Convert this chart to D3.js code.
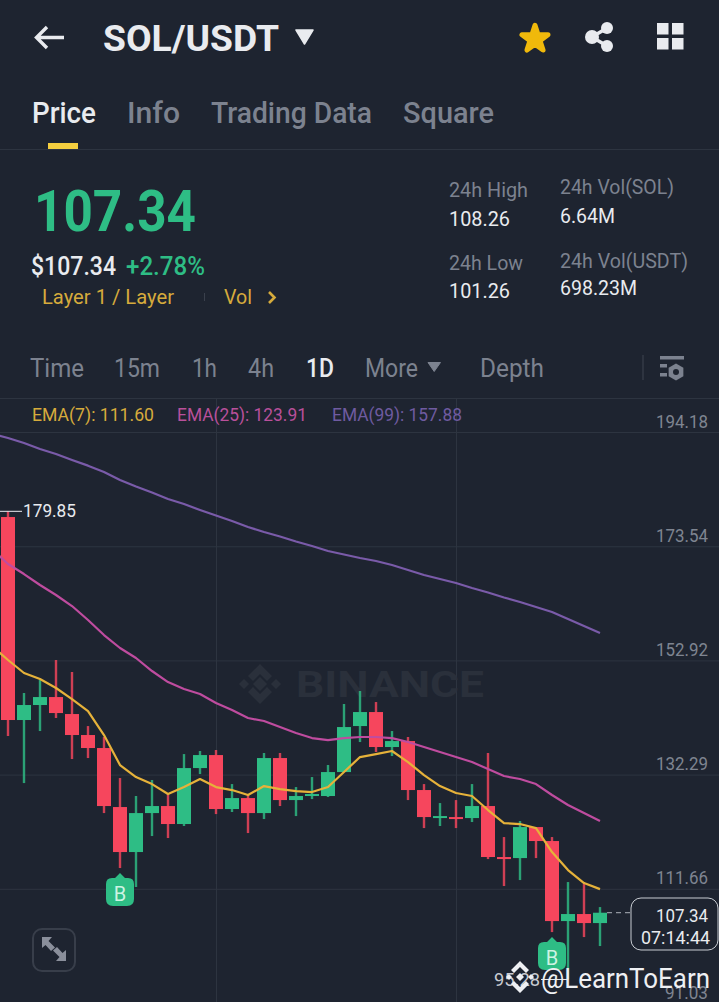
<!DOCTYPE html>
<html>
<head>
<meta charset="utf-8">
<title>SOL/USDT</title>
<script src="https://cdn.jsdelivr.net/npm/d3@7/dist/d3.min.js"></script>
<style>
  html, body { margin: 0; padding: 0; background: #1e2430; }
  svg { display: block; }
  text { font-family: Roboto, "Noto Sans", sans-serif; }
</style>
</head>
<body>
<svg id="chart" width="719" height="1002"></svg>
<script>
// Daily candles, oldest first
const opens = [178.82,142.15,144.86,146.30,143.23,139.44,137.09,126.43,118.30,125.34,126.61,123.36,133.47,135.82,126.07,128.05,125.34,135.28,127.69,128.60,128.42,132.75,141.06,143.59,137.27,138.35,129.50,124.44,124.62,124.44,126.61,117.40,117.21,122.81,120.29,105.83,107.10,105.47];
const highs = [179.85,147.03,149.37,152.99,150.82,141.06,139.08,131.67,128.42,131.31,128.78,136.00,136.55,136.73,130.58,128.60,136.19,136.19,130.04,131.85,134.02,145.04,147.39,145.40,140.16,139.08,130.58,127.15,127.69,130.58,136.19,121.01,123.90,122.81,121.01,112.88,112.52,108.36];
const lows = [139.26,130.76,140.16,142.51,135.10,135.28,125.34,115.41,111.98,121.19,120.83,123.00,132.39,125.16,125.53,121.73,124.26,126.61,124.80,127.87,128.24,132.75,138.17,136.37,135.64,127.69,122.63,123.00,122.63,123.72,117.03,112.16,113.24,117.21,103.84,95.28,102.94,101.32];
const closes = [142.15,144.86,146.30,143.41,139.44,137.09,126.61,118.30,125.34,126.61,123.36,133.47,135.82,126.07,128.05,125.34,135.28,127.69,128.42,128.78,132.75,140.88,143.59,137.27,138.35,129.50,124.62,124.80,124.44,126.61,117.40,117.03,122.81,120.29,105.83,107.10,105.47,107.34];

// Moving averages; each starts one session before the first visible candle
const ema7 = [155.52,152.99,150.64,149.55,147.93,145.94,143.77,139.44,134.02,131.85,130.58,128.78,130.04,131.49,130.04,129.50,128.60,130.22,129.68,129.32,129.14,130.04,132.75,135.46,136.00,136.55,134.56,132.21,130.22,128.96,128.42,125.89,123.54,123.36,122.63,118.30,115.05,112.70,111.60];
const ema25 = [173.04,170.33,168.52,166.54,164.73,162.74,160.21,157.50,155.16,153.35,151.00,149.01,147.75,146.84,145.22,143.95,142.51,141.97,140.88,139.80,138.89,138.53,138.89,139.08,139.08,138.89,138.17,137.27,136.37,135.46,134.56,133.29,132.03,131.49,130.58,128.60,126.79,125.34,123.91];
const ema99 = [193.82,193.10,192.19,191.11,190.21,189.12,188.10,186.95,185.51,184.33,183.25,182.07,181.16,180.09,179.09,178.10,177.02,176.11,175.30,174.40,173.58,172.68,172.05,171.42,170.87,170.15,169.25,168.34,167.62,166.90,165.99,165.18,164.28,163.47,162.56,161.66,160.39,159.13,157.88];

const priceTicks = [194.18,173.54,152.92,132.29,111.66,91.03];
const timeGridCandles = [13,28];
const buyCandles = [7,34];
const lastPrice = 107.34;
const countdown = "07:14:44";

const palette = {
  up: "#2ebd85", down: "#f6465d", grid: "#2d3440", muted: "#7c828f", text: "#e9ebef",
  gold: "#d6ab3c", ema7: "#e6b23a", ema25: "#bf4c9f", ema99: "#7a5ba9"
};

const svg = d3.select("#chart");
const x = d3.scaleLinear().domain([0, 37]).range([8, 600]);
const y = d3.scaleLinear().domain([91.03, 194.18]).range([1003, 432]);

// Text fitted to a fixed width, giving the narrow look of the app's typeface
function label(str, left, baseline, size, color, width, weight = 400, parent = svg) {
  return parent.append("text").attr("x", left).attr("y", baseline)
    .attr("font-size", size).attr("font-weight", weight).attr("fill", color)
    .attr("textLength", width).attr("lengthAdjust", "spacingAndGlyphs").text(str);
}

// ---------- header ----------
svg.append("path").attr("d", "M64 37.5H37M47 27L36.5 37.5L47 48")
  .attr("fill", "none").attr("stroke", palette.text).attr("stroke-width", 3.4);
label("SOL/USDT", 103, 51, 36, palette.text, 176, 700);
svg.append("path").attr("d", "M296 30H313L304.5 44Z").attr("fill", palette.text)
  .attr("stroke", palette.text).attr("stroke-width", 1.5).attr("stroke-linejoin", "round");
svg.append("path").attr("d", d3.symbol(d3.symbolStar, 210)).attr("transform", "translate(535,39)")
  .attr("fill", "#f0b90b").attr("stroke", "#f0b90b").attr("stroke-width", 5).attr("stroke-linejoin", "round");
svg.append("path").attr("d", "M607 28L592 37L607 46").attr("fill", "none").attr("stroke", palette.text).attr("stroke-width", 3.5);
[[592, 37, 7], [607, 28, 6], [607, 46, 6]].forEach(([cx, cy, r]) =>
  svg.append("circle").attr("cx", cx).attr("cy", cy).attr("r", r).attr("fill", palette.text));
[[657, 23], [672, 23], [657, 38], [672, 38]].forEach(([a, b]) =>
  svg.append("rect").attr("x", a).attr("y", b).attr("width", 11.5).attr("height", 11.5).attr("fill", palette.text));

// ---------- tabs ----------
label("Price", 32, 123, 29, palette.text, 64, 500);
label("Info", 127, 123, 29, palette.muted, 53, 500);
label("Trading Data", 211, 123, 29, palette.muted, 161, 500);
label("Square", 403, 123, 29, palette.muted, 91, 500);
svg.append("rect").attr("x", 48).attr("y", 143).attr("width", 30).attr("height", 6).attr("fill", "#f5cf3f");
svg.append("line").attr("x1", 0).attr("x2", 719).attr("y1", 149.5).attr("y2", 149.5).attr("stroke", palette.grid);

// ---------- price summary ----------
label("107.34", 34, 231, 57, palette.up, 162, 700);
label("$107.34", 31, 275, 25, palette.text, 85, 500);
label("+2.78%", 126, 275, 25, palette.up, 79, 500);
label("Layer 1 / Layer", 42, 304, 21, palette.gold, 132);
svg.append("line").attr("x1", 204.5).attr("x2", 204.5).attr("y1", 293).attr("y2", 301).attr("stroke", "#3a404c");
label("Vol", 224, 304, 21, palette.gold, 28);
svg.append("path").attr("d", "M269 292L274.5 297.5L269 303").attr("fill", "none").attr("stroke", palette.gold).attr("stroke-width", 2.6);

label("24h High", 449, 197, 21, palette.muted, 79);
label("108.26", 449, 226, 21, palette.text, 61);
label("24h Vol(SOL)", 560, 194, 21, palette.muted, 114);
label("6.64M", 560, 223, 21, palette.text, 55);
label("24h Low", 449, 270, 21, palette.muted, 74);
label("101.26", 449, 298, 21, palette.text, 61);
label("24h Vol(USDT)", 560, 268, 21, palette.muted, 128);
label("698.23M", 560, 295, 21, palette.text, 77);

// ---------- interval bar ----------
label("Time", 30, 377, 25, palette.muted, 54);
label("15m", 114, 377, 25, palette.muted, 46);
label("1h", 192, 377, 25, palette.muted, 25);
label("4h", 248, 377, 25, palette.muted, 26);
label("1D", 306, 377, 25, palette.text, 28, 500);
label("More", 365, 377, 25, palette.muted, 53);
svg.append("path").attr("d", "M428 362.5H440.5L434.2 371.5Z").attr("fill", palette.muted)
  .attr("stroke", palette.muted).attr("stroke-linejoin", "round");
label("Depth", 480, 377, 25, palette.muted, 64);
svg.append("line").attr("x1", 643).attr("x2", 643).attr("y1", 355).attr("y2", 380).attr("stroke", "#343a46").attr("stroke-width", 1.5);
svg.append("rect").attr("x", 660).attr("y", 356).attr("width", 24).attr("height", 3.5).attr("fill", palette.muted);
[364, 373].forEach(top => svg.append("rect").attr("x", 660).attr("y", top).attr("width", 7).attr("height", 3.5).attr("fill", palette.muted));
svg.append("path").attr("d", d3.line()(d3.range(6).map(k => {
  const a = Math.PI / 3 * k;
  return [676 + 8.5 * Math.sin(a), 372 + 8.5 * Math.cos(a)];
})) + "Z").attr("fill", palette.muted);
svg.append("circle").attr("cx", 676).attr("cy", 372).attr("r", 3).attr("fill", "#1e2430");
svg.append("line").attr("x1", 0).attr("x2", 719).attr("y1", 398.5).attr("y2", 398.5).attr("stroke", palette.grid);

// ---------- grid ----------
const gridY = svg.append("g").call(d3.axisRight(y).tickValues(priceTicks).tickSize(719).tickFormat(""));
gridY.select(".domain").remove();
gridY.selectAll("line").attr("stroke", palette.grid);
const gridX = svg.append("g").attr("transform", "translate(0,1002)")
  .call(d3.axisTop(x).tickValues(timeGridCandles).tickSize(603).tickFormat(""));
gridX.select(".domain").remove();
gridX.selectAll("line").attr("stroke", palette.grid);

// ---------- exchange watermark ----------
const diamond = (cx, cy, r) => `M${cx} ${cy - r}L${cx + r} ${cy}L${cx} ${cy + r}L${cx - r} ${cy}Z`;
const markColor = "#2a303b";
const bigMark = svg.append("g");
bigMark.append("path").attr("d", diamond(260, 684, 7)).attr("fill", markColor);
bigMark.append("path").attr("d", diamond(244, 684, 5)).attr("fill", markColor);
bigMark.append("path").attr("d", diamond(276, 684, 5)).attr("fill", markColor);
bigMark.append("path").attr("d", "M248 676L260 664L272 676L267 681L260 674L253 681ZM248 692L260 704L272 692L267 687L260 694L253 687Z").attr("fill", markColor);
label("BINANCE", 296, 697, 37, markColor, 188, 700);

// ---------- candles ----------
const candles = d3.range(closes.length).map(i => ({ i, o: opens[i], h: highs[i], l: lows[i], c: closes[i] }));
const tone = d => d.c >= d.o ? palette.up : palette.down;
const candle = svg.append("g").selectAll("g").data(candles).join("g");
candle.append("line")
  .attr("x1", d => x(d.i)).attr("x2", d => x(d.i))
  .attr("y1", d => y(d.h)).attr("y2", d => y(d.l))
  .attr("stroke", tone).attr("stroke-width", 2.4).attr("stroke-opacity", .82);
candle.append("rect")
  .attr("x", d => x(d.i) - 7).attr("width", 14)
  .attr("y", d => y(Math.max(d.o, d.c)))
  .attr("height", d => Math.max(2, Math.abs(y(d.o) - y(d.c))))
  .attr("fill", tone);

// ---------- moving averages ----------
const avgLine = d3.line().x((d, i) => x(i - 1)).y(d => y(d));
[[ema99, palette.ema99], [ema25, palette.ema25], [ema7, palette.ema7]].forEach(([values, color]) =>
  svg.append("path").attr("d", avgLine(values)).attr("fill", "none")
    .attr("stroke", color).attr("stroke-width", 2.2).attr("stroke-linejoin", "round"));

// ---------- buy markers under their candles ----------
buyCandles.forEach(i => {
  const cx = x(i), top = y(lows[i]) + 5;
  const g = svg.append("g").attr("transform", `translate(${cx},${top})`);
  g.append("path").attr("d", "M0 0L5 5H8Q14 5 14 11V26Q14 33 7 33H-7Q-14 33 -14 26V11Q-14 5 -8 5H-5Z").attr("fill", palette.up);
  g.append("text").attr("y", 28).attr("text-anchor", "middle").attr("font-size", 20).attr("fill", "#cdf3e3").text("B");
});

// ---------- price axis labels ----------
const axisLabels = svg.append("g").attr("transform", "translate(708,0)")
  .call(d3.axisLeft(y).tickValues(priceTicks).tickSize(0).tickPadding(0).tickFormat(d3.format(".2f")));
axisLabels.select(".domain").remove();
axisLabels.selectAll("text").attr("dy", -5).attr("font-size", 18).attr("fill", "#7f8591")
  .attr("font-family", "Roboto, sans-serif").attr("textLength", d => d < 100 ? 43 : 52).attr("lengthAdjust", "spacingAndGlyphs");

// ---------- legend ----------
label("EMA(7): " + ema7[ema7.length - 1].toFixed(2), 32, 421, 18, palette.gold, 122);
label("EMA(25): " + ema25[ema25.length - 1].toFixed(2), 177, 421, 18, "#b9509b", 130);
label("EMA(99): " + ema99[ema99.length - 1].toFixed(2), 332, 421, 18, "#6f5ba0", 130);

// ---------- high and low callouts ----------
const highIdx = d3.maxIndex(highs), lowIdx = d3.minIndex(lows);
svg.append("line").attr("x1", 0).attr("x2", 22).attr("y1", y(highs[highIdx])).attr("y2", y(highs[highIdx])).attr("stroke", palette.text);
label(highs[highIdx].toFixed(2), 23, y(highs[highIdx]) + 6, 18, palette.text, 53);
svg.append("line").attr("x1", x(lowIdx) - 27).attr("x2", x(lowIdx)).attr("y1", y(lows[lowIdx])).attr("y2", y(lows[lowIdx])).attr("stroke", palette.text);
label(lows[lowIdx].toFixed(2), 494, y(lows[lowIdx]) + 7, 18, "#c9ccd2", 46);

// ---------- last price tag ----------
svg.append("line").attr("x1", x(37) + 7).attr("x2", 630).attr("y1", y(lastPrice)).attr("y2", y(lastPrice))
  .attr("stroke", "#aeb3bb").attr("stroke-dasharray", "5 4");
svg.append("rect").attr("x", 631).attr("y", 898).attr("width", 87).attr("height", 52).attr("rx", 10)
  .attr("fill", "#1e2430").attr("stroke", "#c8ccd2");
label(lastPrice.toFixed(2), 656, 922, 18, palette.text, 52);
label(countdown, 641, 944, 18, palette.text, 69);

// ---------- expand button ----------
svg.append("rect").attr("x", 33).attr("y", 929).attr("width", 42).attr("height", 42).attr("rx", 9)
  .attr("fill", "none").attr("stroke", "#383e4a").attr("stroke-width", 2);
svg.append("path").attr("d", "M42 937H52L48.5 941L55 947.5L51 951L45.5 945L42 948Z M66 961H56L59.5 957L53 950.5L57 947L62.5 953L66 950Z")
  .attr("fill", "#8a8f9b");

// ---------- account tag ----------
const tag = svg.append("g").attr("fill", "#eef0f3");
tag.append("path").attr("d", diamond(520, 977, 4));
tag.append("path").attr("d", diamond(509, 977, 3));
tag.append("path").attr("d", diamond(531, 977, 3));
tag.append("path").attr("d", "M511 970L520 961L529 970L526 973L520 967L514 973ZM511 984L520 993L529 984L526 981L520 987L514 981Z");
tag.append("text").attr("x", 541).attr("y", 988).attr("font-size", 27).attr("font-family", "Noto Sans, sans-serif")
  .attr("textLength", 169).attr("lengthAdjust", "spacingAndGlyphs").text("@LearnToEarn");
</script>
</body>
</html>
